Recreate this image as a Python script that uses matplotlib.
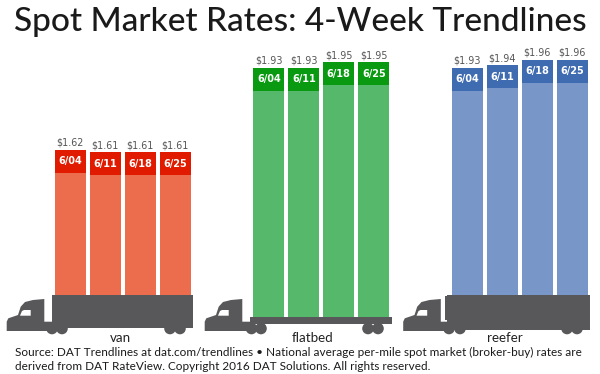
import matplotlib
matplotlib.use('Agg')
import matplotlib.pyplot as plt
from matplotlib.patches import Polygon, Circle, Rectangle

# values
groups = ['van', 'flatbed', 'reefer']
weeks = ['6/04', '6/11', '6/18', '6/25']
van = [1.62, 1.61, 1.61, 1.61]
flatbed = [1.93, 1.93, 1.95, 1.95]
reefer = [1.93, 1.94, 1.96, 1.96]

title = 'Spot Market Rates: 4-Week Trendlines'
source_1 = 'Source: DAT Trendlines at dat.com/trendlines \u2022 National average per-mile spot market (broker-buy) rates are'
source_2 = 'derived from DAT RateView. Copyright 2016 DAT Solutions. All rights reserved.'

light = ['#EC6C4E', '#55B86B', '#7896C8']
dark = ['#E01B00', '#0A9A12', '#3F6BB0']
truck_color = '#58585A'
plt.rcParams['font.family'] = 'Lato'

fig = plt.figure(figsize=(6, 3.74), dpi=100)

# dollar axes for the bars, 264 px per dollar with $1.62 at y=149.5
px_per_dollar = 264
ax = fig.add_axes([0, 0, 1, 1])
ax.set_xlim(0, 600)
ax.set_ylim(1.62 - (374 - 149.5) / px_per_dollar, 1.62 + 149.5 / px_per_dollar)
ax.axis('off')

# pixel axes on top for the trucks and the text
art = fig.add_axes([0, 0, 1, 1])
art.set_xlim(0, 600)
art.set_ylim(374, 0)
art.axis('off')
art.patch.set_alpha(0)


def to_dollars(y_px):
    return 1.62 + (149.5 - y_px) / px_per_dollar


starts = [54.7, 253.3, 451.7]
floors = [300, 320, 300]
pitch = 35
bar_w = 31
header_h = 23 / px_per_dollar

for g, values in enumerate([van, flatbed, reefer]):
    for i, v in enumerate(values):
        x = starts[g] + i * pitch + bar_w / 2
        bottom = to_dollars(floors[g])
        ax.bar(x, v - bottom, bottom=bottom, width=bar_w, color=light[g], linewidth=0)
        ax.bar(x, header_h, bottom=v - header_h, width=bar_w, color=dark[g], linewidth=0)
        ax.text(x, v + 0.007, f'${v:.2f}', ha='center', va='bottom', fontsize=6.9,
                color='#555555', family='DejaVu Sans')
        ax.text(x, v - header_h / 2, weeks[i], ha='center', va='center', fontsize=7,
                color='white', fontweight='bold', family='DejaVu Sans')


def draw_truck(dx):
    cab = [(6.7, 321.7), (8.3, 318.3), (18, 315), (20.7, 306.7), (25, 302), (33, 300),
           (44.3, 299), (44.3, 321.7), (53, 321.7), (53, 331), (6.7, 331)]
    art.add_patch(Polygon([(x + dx, y) for x, y in cab], color=truck_color, linewidth=0))
    window = [(20, 315.7), (22, 311), (24, 310), (30.7, 310), (30.7, 315.7)]
    art.add_patch(Polygon([(x + dx, y) for x, y in window], color='white', linewidth=0))


def draw_wheels(xs):
    for x in xs:
        art.add_patch(Circle((x, 328.5), 5.8, color=truck_color, linewidth=0))


# van
draw_truck(0)
art.add_patch(Rectangle((51.7, 295), 141.6, 33, color=truck_color, linewidth=0))
draw_wheels([52, 62, 170, 180])

# flatbed
draw_truck(198)
art.add_patch(Rectangle((250, 317), 141.7, 7, color=truck_color, linewidth=0))
draw_wheels([251.5, 261, 368, 378])

# reefer
draw_truck(396.5)
art.add_patch(Rectangle((447, 294.5), 143, 35, color=truck_color, linewidth=0))
art.add_patch(Rectangle((444.5, 296), 4, 24, color=truck_color, linewidth=0))
draw_wheels([449, 460, 567, 577])

group_x = [120.5, 313, 505]
for g, name in enumerate(groups):
    art.text(group_x[g], 337.5, name, ha='center', va='center', fontsize=9.6, color='#222222')

art.text(300.5, 22, title, ha='center', va='center', fontsize=24, fontweight='medium', color='#1a1a1a')
art.text(15, 352, source_1, ha='left', va='center', fontsize=8.45, color='#1a1a1a')
art.text(15, 366, source_2, ha='left', va='center', fontsize=8.45, color='#1a1a1a')

fig.savefig('out.png', dpi=100)
